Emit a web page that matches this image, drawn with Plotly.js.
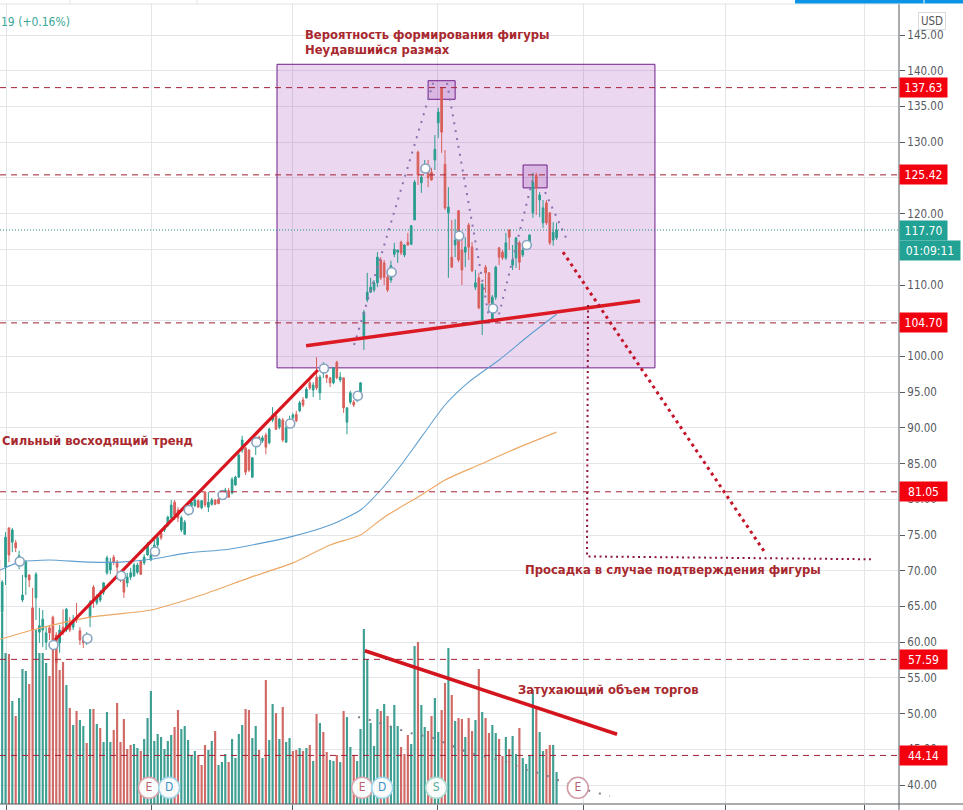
<!DOCTYPE html>
<html><head><meta charset="utf-8">
<script src="https://cdn.plot.ly/plotly-3.0.1.min.js"></script>
<style>html,body{margin:0;padding:0;background:#fff}#c{width:963px;height:810px}</style>
</head><body><div id="c"></div>
<script>
const openP=[71.5,64.2,70.5,76,74,73.9,70.7,65.9,69.1,69.4,
64.8,66.2,61.4,61.7,60,62,63.5,61,59.9,62.1,
61.7,62.7,62.1,63.5,61.6,60.3,60.3,63.5,67.7,65.5,
65.9,67,69.7,70.1,71.9,71.2,69.4,68.7,68.3,69.1,
69.3,69.8,71.4,71.1,72.2,71.5,73.2,73.6,75.3,75.7,
76.4,77.4,79.6,78.5,75.7,75.1,78.2,79.1,79.1,79.8,
78.8,81,78.9,79.3,79.9,80,80.2,80.7,81.2,80.9,
82,83.1,86.9,87.2,86.9,83.1,87.6,88.7,88.2,89,
87.9,91.1,91.7,90.1,91.1,88,90.4,91.4,91.9,92.4,
93.9,94.2,96.3,95.3,97.1,94.9,97.7,97.4,97,96.3,
99.2,96.7,97,90.8,93.6,93.6,93.9,95,102.7,107.9,
109,109.3,110.3,113.5,113.1,111.1,110.7,114.3,114.6,116,
114.2,116,115.7,119.1,128.6,124.3,126.1,125.7,125.8,127.5,
132.7,137.6,126.9,120.1,113.9,115.6,120.4,114.9,114.6,118.4,
115.3,109.7,111,104.7,112.5,111.7,105.1,108.3,115.2,114.6,
113.8,117.7,112.8,113.8,115.9,114.2,115.2,116,120.1,125.4,
121.9,118.7,121.5,120.1,116.3,116.6];
const highP=[72.2,68.7,75.4,76,76,74.3,72.8,69.4,71.5,69.5,
67.6,69.8,64.8,64.5,62.1,62.4,63.7,61.4,62.4,64.6,
64.8,63.5,63.8,65.5,62.1,60.9,61.4,65.9,68,66.7,
67.3,68.4,72.1,71.8,72.2,71.5,69.8,69.1,69.7,70.4,
71.1,71.1,71.5,72.3,74,72.6,74.3,74.9,75.6,76.4,
77.7,79.9,79.9,78.9,77.7,77.1,79.5,79.9,80.2,80,
79.9,81.2,81,80.2,80,80.3,81.2,81.6,81.6,83.1,
83.3,86.5,88.9,87.3,87,85.9,88.7,88.9,88.9,89.3,
90,92.9,91.9,91.4,91.4,90.3,91.7,92.1,92.4,93.8,
94.3,95.7,96.7,96.4,99.9,97.4,99.2,97.4,97.1,98.5,
99.4,97.8,97,92.9,95.2,93.9,95,96.4,106.5,111.7,
111,110.7,114.6,113.9,113.5,111.7,113.4,115.9,114.9,116.2,
115.7,117.3,118.4,124.7,128.8,125.4,127.5,127.5,126.4,131,
134.8,137.7,128.9,123.7,119.1,119.2,120.5,117.3,116.7,118.7,
116,112.1,111.7,110.3,112.8,111.8,108.6,112.7,115.3,114.9,
117.3,117.8,115.6,116.7,116.2,115.6,116.3,117.1,125.7,125.7,
123,121.9,121.9,120.2,118.8,118.7];
const lowP=[67.3,58.9,68,71.2,72.6,72.6,70.2,65.6,66.6,67.7,
58.9,63.1,59.9,59.3,58.9,60.3,59.2,56.4,58.5,61,
61.4,61.4,61.7,62.7,59.6,59.2,59.6,62.1,64.8,65.2,
65.6,66.6,69.4,69.5,70.8,69.7,68.4,66.2,67.7,68.7,
69.1,69.5,69.4,70.8,72.1,71.4,72.9,73.3,74.3,75.4,
76.1,77.1,77.1,76.8,75.4,75,77.7,78.8,78.9,78.8,
78.6,78.9,78.2,79.1,79.2,79.3,79.9,80.6,80.2,80.7,
81.9,83,86.5,83.4,83.8,83,86.2,87.9,87.9,86.3,
87.7,90.8,89.7,89.8,88,87.9,90.1,91.1,90.8,92.2,
92.9,94.1,95.3,94.3,95.3,93.9,97,96.3,95.7,96.1,
96.8,96.4,92.1,89.1,93.3,92.9,93.6,94.7,100.9,107.6,
108.9,109,109.7,110.7,110,109,110.3,113.9,113.1,114.2,
113.9,115.5,115.6,119.1,124,122.9,125.8,123.7,124.6,126.1,
130.6,128.5,120.5,111,112.4,113.9,113.2,110,112.5,113.5,
111.8,109.3,106.6,103,108.9,107.2,104.8,107.9,112.8,113.5,
113.5,114.9,112.1,112.4,112.1,113.9,114.9,115.9,119.4,119.8,
119.5,118,118.4,115.6,115.5,116.3];
const closeP=[68.3,68.4,74.7,72.2,75.7,73.2,72.1,66.6,71.2,68.7,
61.7,69.5,62.3,63.2,61.3,61.3,60.3,57.1,61.7,61.3,
64.6,61.7,63.1,63.1,60.3,59.9,60.9,65.6,65.9,66.3,
66.6,68.3,71.8,71.2,71.2,70.5,69,67,69.1,69.7,
70.8,70.8,69.5,71.9,73.6,72.2,73.6,74.6,74.6,76.1,
77.5,79.2,77.8,77.4,77.4,76.8,78.9,79.6,79.9,78.9,
79.8,79.2,79.6,79.9,79.3,79.4,80.7,81.3,80.3,82.8,
83.1,86.2,88.3,83.8,84.1,85.8,88.3,88.2,88.6,87.3,
89.8,91.8,89.8,91.2,88.3,90,91.1,91.8,91,93.5,
93.2,95.4,95.6,96,95.6,97.1,98.4,97,96.3,98.4,
97,97.1,92.8,92.8,94.9,93.2,94.5,96.3,106.2,109,
109.7,110.3,113.9,111,111.1,109.3,112.7,115,114.9,114.5,
115.6,115.6,118.3,124.4,125.4,125.1,126.8,125,124.7,129,
134.2,131.4,120.8,120.9,112.5,116.3,113.5,112.1,115.3,115.3,
112,110.3,106.8,110.1,111.7,107.5,108.3,112.5,113.9,113.8,
115.9,116.7,113.5,116.6,113.2,114.9,115.9,117,124.4,123.6,
122.6,120.8,118.7,115.9,117.4,117.7];
const volumes=[120,191,151,150,103,88,106,135,133,120,196,174,151,151,141,128,154,144,134,142,119,96,79,93,84,78,61,95,95,80,76,62,92,62,74,101,62,85,55,59,60,56,53,65,86,113,63,70,67,55,63,69,77,94,75,78,64,48,53,49,39,59,54,63,73,39,42,50,42,65,46,70,79,95,94,66,78,54,46,124,64,100,91,65,97,62,66,53,54,56,53,56,59,43,90,81,72,52,44,43,49,42,93,87,57,49,43,75,175,145,81,58,95,93,100,88,78,99,78,57,50,69,60,158,162,99,77,73,88,106,72,94,121,156,109,83,86,85,67,86,73,84,135,92,86,71,79,71,65,48,67,55,68,50,76,46,40,49,114,97,72,53,55,59,59,32];
const volumeDirection=["r","ttrtrtttrr","ttttrrrrrt","rtrttrtrtr","tttrrrrrrt","trtttttttt","trrtttttrr","rttrtttrtt","ttrrttrtrt","trtrttrrtr","trtrtrrttr","trttrtttt","tttrtrtttr","rrttrttrrt","trrtrtrrtr","rtrtrrttrr","trttrttttr","ttrrtt"];
const maDays=[0.4,6,10,15,27,36,45,56,68,86,98,107,113,119,125,132,139,148,157,165];
const ma50=[70.1,71.2,71.4,71.5,71.2,71.2,71.6,72.5,73,74.7,76.4,78.5,81.3,84.8,88.7,93.2,96.4,99.5,103,105.9];
const ma200Days=[0.4,10,27,45,60,74,87,98,107,114,125,132,142,154,165];
const ma200=[60.4,61.7,63.5,64.5,66.6,69,71.1,73.6,75,77.5,80.6,82.7,84.8,87.3,89.4];
const volMaDays=[106.3,109.8,116.3,121.7,128.5,133.5,138.5,145.3,150.4,156.3,160.7,166.9,175.8,180.8];
const volMa=[87,84,77,71,66,59,52,46,42,34,30,22,12,8];
const splitDays=[6.2,16.2,26.2,36.2,46.2,56.2,66.2,76.2,86.2,96.2,106.2,116.2,126.2,136.2,146.2,156.2];
const splitPrice=[71.3,59.6,60.5,69.3,72.7,78.5,80.6,88,90.6,98.3,94.5,111.8,126.3,116.9,106.7,115.6];
const eventDays=[44.4,50.4,107.5,113.4,129.4,171.3];
const eventLabels=["E","D","E","D","S","E"];
const eventLine=["#dba5ae","#9fd6ea","#dba5ae","#9fd6ea","#a9dbd1","#cf9aa5"];
const eventText=["#c0626f","#3f93c9","#c0626f","#3f93c9","#5fae9e","#b0606f"];
const levels=[137.63,125.42,104.70,81.05,57.59,44.14];
const lastPrice=117.70;
const priceTicks=[40,45,50,55,60,65,70,75,80,85,90,95,100,105,110,115,120,125,130,135,140,145];
const hiddenTickLabels=[105,115,125];
const gridDays=[2.13,45.3,87,129.9,173.1,214.9,256];
const neckDays=[90.9,189.7], neckPrice=[101.5,107.8];
const rallyDays=[16.6,94.4], rallyPrice=[60.3,98.1];
const fadeDays=[108.3,182.9], fadePrice=[58.8,47.1];
const dropDays=[166.9,226.7], dropPrice=[114.6,72.5];
const targetDays=[174.3,174,258], targetPrice=[107.2,72,71.6];
const shapeDays=[105.1,128.5,null,132.6,145.3,null,147.4,158.1,null,161.6,168.1];
const shapePrice=[101.6,138.3,null,138.3,104.7,null,104.8,125.1,null,123,116.3];
const boxes=[[82.3,194.1,98.4,140.9],[127,135,136,138.6],[155.1,162.2,123.6,126.8]];

const days=openP.map((_,i)=>i);
const tealC="#2a9d8f", redC="#d95f5b";
const dirFlat=volumeDirection.join("");
const volColors=volumes.map((v,i)=>dirFlat[i]==="r"?"#d06a66":"#3f9f92");

const FONT='"DejaVu Sans Condensed","DejaVu Sans",sans-serif';
const TXT="#a8282e";
const fullW=963/899, plotH=800;
const py=y=>1-(y-4)/plotH;
const priceRange=[37.34,149.34], volRange=[0,800];
const toVol=p=>(p-priceRange[0])/(priceRange[1]-priceRange[0])*volRange[1];

const traces=[
 {type:"bar",x:days,y:volumes,width:0.64,marker:{color:volColors,line:{width:0}},xaxis:"x",yaxis:"y",hoverinfo:"skip"},
 {type:"scatter",mode:"lines",x:volMaDays,y:volMa,line:{color:"#7d7f8c",width:2,dash:"2px 9px"},xaxis:"x",yaxis:"y",hoverinfo:"skip"},
 {type:"scatter",mode:"lines",x:maDays,y:ma50,line:{color:"#5f9fd0",width:1.1,shape:"spline",smoothing:0.6},xaxis:"x",yaxis:"y2",hoverinfo:"skip"},
 {type:"scatter",mode:"lines",x:ma200Days,y:ma200,line:{color:"#eda866",width:1.2,shape:"spline",smoothing:0.6},xaxis:"x",yaxis:"y2",hoverinfo:"skip"},
 {type:"candlestick",x:days,open:openP,high:highP,low:lowP,close:closeP,xaxis:"x",yaxis:"y2",whiskerwidth:0,
  increasing:{line:{color:tealC,width:1},fillcolor:tealC},decreasing:{line:{color:redC,width:1},fillcolor:redC},hoverinfo:"skip"},
 {type:"scatter",mode:"lines",x:shapeDays,y:shapePrice,line:{color:"#8a72ad",width:2,dash:"2px 6px"},xaxis:"x",yaxis:"y2",hoverinfo:"skip",connectgaps:false},
 {type:"scatter",mode:"lines",x:neckDays,y:neckPrice,line:{color:"#dc1a24",width:3.4},xaxis:"x",yaxis:"y2",hoverinfo:"skip"},
 {type:"scatter",mode:"lines",x:rallyDays,y:rallyPrice,line:{color:"#d8161f",width:3.2},xaxis:"x",yaxis:"y2",hoverinfo:"skip"},
 {type:"scatter",mode:"lines",x:fadeDays,y:fadePrice,line:{color:"#d3151e",width:3.6},xaxis:"x",yaxis:"y2",hoverinfo:"skip"},
 {type:"scatter",mode:"lines",x:dropDays,y:dropPrice,line:{color:"#c4142a",width:3,dash:"3px 4px"},xaxis:"x",yaxis:"y2",hoverinfo:"skip"},
 {type:"scatter",mode:"lines",x:targetDays,y:targetPrice,line:{color:"#8f1538",width:2,dash:"2px 3.5px"},xaxis:"x",yaxis:"y2",hoverinfo:"skip"},
 {type:"scatter",mode:"markers",x:splitDays,y:splitPrice,marker:{size:9,color:"#ffffff",line:{color:"#86a3bf",width:1.6}},xaxis:"x",yaxis:"y2",hoverinfo:"skip"},
 {type:"scatter",mode:"markers+text",x:eventDays,y:eventDays.map(()=>39.6),text:eventLabels,textposition:"middle center",
  textfont:{family:FONT,size:12,color:eventText},marker:{size:21,color:"rgba(255,255,255,0.95)",line:{color:eventLine,width:1.5}},xaxis:"x",yaxis:"y2",hoverinfo:"skip"}
];

const shapes=[];
boxes.forEach(b=>shapes.push({type:"rect",layer:"between",xref:"x",yref:"y",x0:b[0],x1:b[1],y0:toVol(b[2]),y1:toVol(b[3]),
  fillcolor:"rgba(142,36,170,0.18)",line:{color:"#6f1f88",width:1}}));
levels.forEach(l=>shapes.push({type:"line",layer:"above",xref:"paper",yref:"y2",x0:0,x1:1,y0:l,y1:l,line:{color:"#a32135",width:1,dash:"6px 5px"}}));
shapes.push({type:"line",layer:"above",xref:"paper",yref:"y2",x0:0,x1:1,y0:lastPrice,y1:lastPrice,line:{color:"#1f8a7f",width:1,dash:"1px 2px"}});
shapes.push({type:"line",xref:"paper",yref:"paper",x0:0,x1:fullW,y0:py(804),y1:py(804),line:{color:"#555a60",width:1}});
shapes.push({type:"line",xref:"paper",yref:"paper",x0:1,x1:1,y0:py(810),y1:py(4),line:{color:"#555a60",width:1}});
shapes.push({type:"line",xref:"paper",yref:"paper",x0:0,x1:1,y0:py(4),y1:py(4),line:{color:"#e1e4e8",width:1}});
[70,197].forEach(px=>shapes.push({type:"line",xref:"paper",yref:"paper",x0:px/899,x1:px/899,y0:py(0),y1:py(4),line:{color:"#e1e4e8",width:1}}));
shapes.push({type:"rect",xref:"paper",yref:"paper",x0:795/899,x1:fullW,y0:py(0),y1:py(3.5),fillcolor:"#0a94e6",line:{width:0}});
shapes.push({type:"line",xref:"paper",yref:"paper",x0:924/899,x1:924/899,y0:py(0),y1:py(3.5),line:{color:"#ffffff",width:1}});

const ann=[];
function note(t,px,y){ann.push({xref:"paper",yref:"paper",x:px/899,y:py(y),xanchor:"left",yanchor:"middle",text:t,showarrow:false,
  font:{family:FONT,size:12.9,weight:700,color:TXT},align:"left",borderpad:0});}
note("Вероятность формирования фигуры",304,35);
note("Неудавшийся размах",304,49.5);
note("Сильный восходящий тренд",1,440);
note("Просадка в случае подтверждения фигуры",524,569.5);
note("Затухающий объем торгов",517,689);
ann.push({xref:"paper",yref:"paper",x:-1/899,y:py(22),xanchor:"left",yanchor:"middle",text:"19 (+0.16%)",showarrow:false,font:{family:FONT,size:12,color:"#3aa898"}});
function tag(t,val,bg,w){ann.push({xref:"paper",yref:"y2",x:1,y:val,xanchor:"left",yanchor:"middle",text:t,showarrow:false,width:w,height:19,
  bgcolor:bg,borderpad:0,align:"center",font:{family:FONT,size:12,color:"#fff"}});}
levels.forEach(l=>tag(l.toFixed(2),l,"#f3000f",47));
tag(lastPrice.toFixed(2),lastPrice,"#22a294",47);
tag("01:09:11",114.9,"#22a294",60);
ann.push({xref:"paper",yref:"paper",x:931.5/899,y:py(21),xanchor:"center",yanchor:"middle",text:"USD",showarrow:false,width:26,height:16,
  bgcolor:"#fff",bordercolor:"#d8dbdf",borderwidth:1,borderpad:0,font:{family:FONT,size:11.5,color:"#555"}});

Plotly.newPlot("c",traces,{
  width:963,height:810,paper_bgcolor:"#fff",plot_bgcolor:"#fff",showlegend:false,barmode:"overlay",
  margin:{l:0,r:64,t:4,b:6,pad:0},
  font:{family:FONT},
  xaxis:{range:[0.355,266.3],tickmode:"array",tickvals:gridDays,ticktext:gridDays.map(()=>""),ticks:"outside",ticklen:5,tickcolor:"#555a60",
    showgrid:true,gridcolor:"#e3e6e9",gridwidth:1,zeroline:false,showline:false,rangeslider:{visible:false},fixedrange:true},
  yaxis:{range:volRange,visible:false,showgrid:false,zeroline:false,fixedrange:true},
  yaxis2:{range:priceRange,overlaying:"y",side:"right",anchor:"x",tickmode:"array",tickvals:priceTicks,ticktext:priceTicks.map(v=>hiddenTickLabels.includes(v)?"":v.toFixed(2)),
    ticks:"outside",ticklen:5,tickcolor:"#555a60",tickfont:{family:FONT,size:11.5,color:"#555a60"},showgrid:true,gridcolor:"#e3e6e9",gridwidth:1,
    zeroline:false,showline:false,fixedrange:true},
  shapes:shapes,annotations:ann
},{displayModeBar:false,staticPlot:true});
</script></body></html>
